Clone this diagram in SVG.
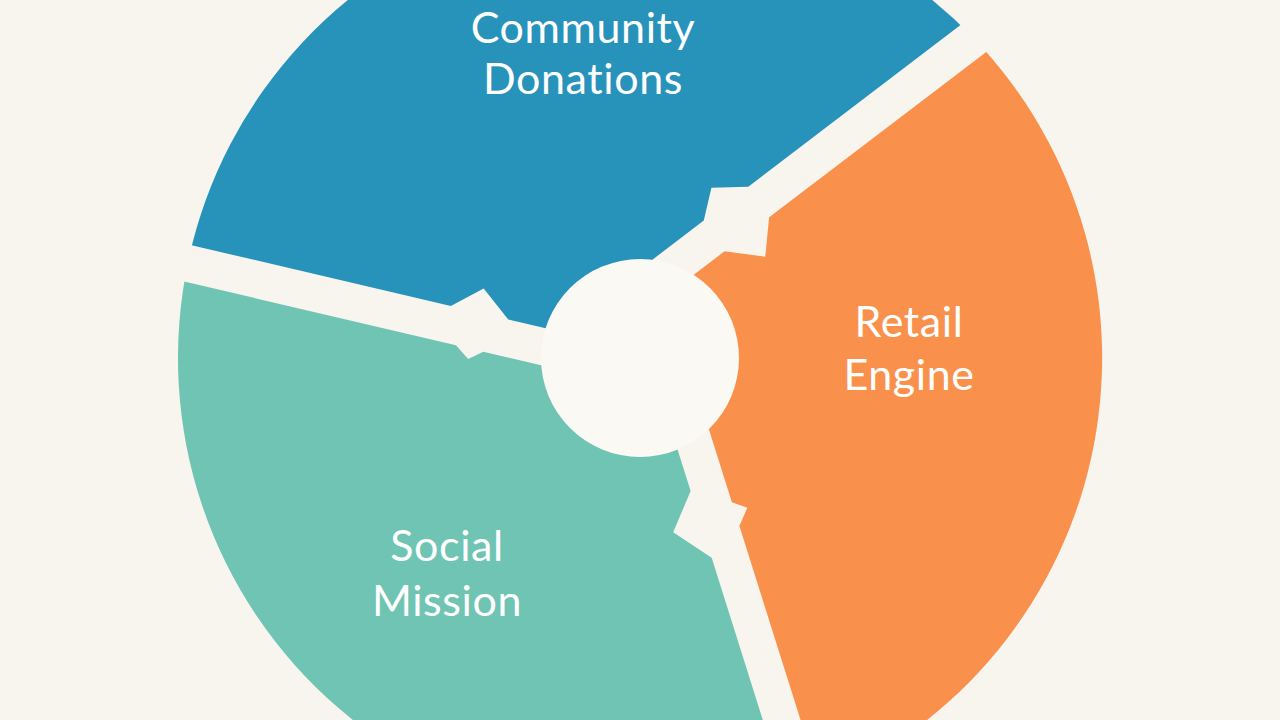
<svg xmlns="http://www.w3.org/2000/svg" width="1280" height="720" viewBox="0 0 1280 720">
  <style>
    .bg { fill: #F8F5EF; }
    .cream { fill: #F8F5EF; }
    .hub { fill: #FBF9F4; }
    .blue { fill: #2793BA; }
    .orange { fill: #F9914C; }
    .teal { fill: #70C4B3; }
    .label { font-family: Lato, "Open Sans", "Liberation Sans", sans-serif; font-size: 43px; letter-spacing: 0.6px; fill: #FFFFFF; text-anchor: middle; }
  </style>
  <rect class="bg" x="0" y="0" width="1280" height="720"/>

  <g id="node-community-donations">
    <path class="blue" d="M 640 358 L 638 366.4 L 188.3 260.9 A 462 462 0 0 1 973.7 38.3 L 608.4 316.5 Z"/>
    <text class="label" x="583" y="43">Community</text>
    <text class="label" x="583" y="94">Donations</text>
  </g>

  <g id="node-retail-engine">
    <path class="orange" d="M 640 358 L 608.4 316.5 L 973.7 38.3 A 462 462 0 0 1 803.8 790 L 665.1 350.2 Z"/>
    <text class="label" x="909" y="337">Retail</text>
    <text class="label" x="909" y="390">Engine</text>
  </g>

  <g id="node-social-mission">
    <path class="teal" d="M 640 358 L 665.1 350.2 L 803.8 790 A 462 462 0 0 1 188.3 260.9 L 638 366.4 Z"/>
    <text class="label" x="447" y="561">Social</text>
    <text class="label" x="447" y="616">Mission</text>
  </g>

  <g id="connectors">
    <polygon class="cream" transform="translate(608.4 316.5) rotate(-37.3)" points="0,-18.5 134,-18.5 160,-40 190,-18.5 470,-18.5 470,18.5 188,18.5 161,47.5 132,18.5 0,18.5"/>
    <polygon class="cream" transform="translate(637.4 368.8) rotate(193.2)" points="0,18.5 137,18.5 168,43 196,18.5 470,18.5 470,-18.5 182,-18.5 167,-29 154,-18.5 0,-18.5"/>
    <polygon class="cream" transform="translate(665.1 350.2) rotate(72.5)" points="0,18 142,18 176,47 212,18 520,18 520,-18 190,-18 175,-31 165,-18 0,-18"/>
  </g>

  <g id="node-hub">
    <circle class="hub" cx="640" cy="358" r="99"/>
  </g>
</svg>
